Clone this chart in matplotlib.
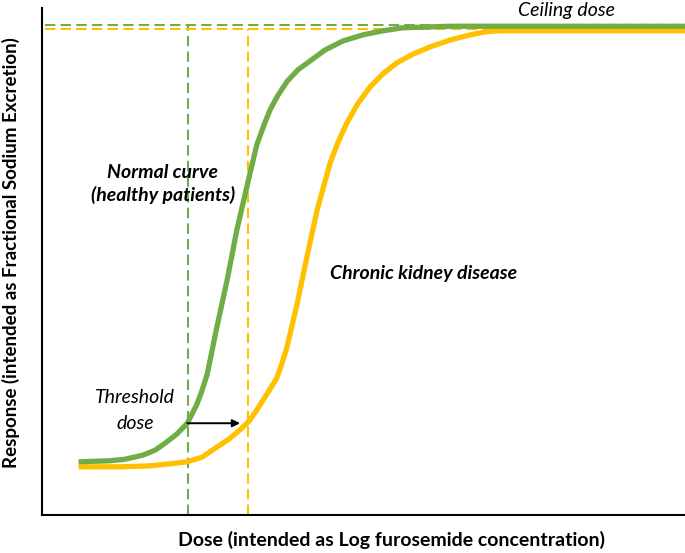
import matplotlib.pyplot as plt

plt.rcParams['font.family'] = ['Lato', 'DejaVu Sans']

# dose (log scale, arbitrary units 0-100) and response (0-100)
normal_dose = [6.1, 10.6, 12.9, 15.7, 17.6, 19.4, 21.0, 22.6, 24.0, 24.8, 25.7,
               27.1, 28.8, 30.3, 32.0, 33.4, 34.7, 35.5, 36.7, 38.1, 39.8, 44.0,
               46.8, 49.9, 53.0, 56.1, 63.5, 100]
normal_resp = [10.5, 10.7, 11.0, 11.8, 12.8, 14.4, 16.0, 18.1, 21.6, 24.2, 27.8,
               36.5, 46.4, 56.2, 65.5, 73.0, 77.5, 80.0, 82.8, 85.5, 87.8, 91.7,
               93.5, 94.7, 95.5, 96.1, 96.4, 96.4]

ckd_dose = [6.1, 12.1, 16.8, 19.9, 22.6, 24.9, 27.2, 29.1, 30.8, 32.2, 33.3,
            34.4, 35.5, 36.5, 37.3, 38.1, 39.7, 41.2, 42.8, 44.8, 46.0, 47.4,
            49.1, 51.0, 53.0, 55.2, 57.7, 60.3, 63.5, 66.6, 68.9, 70.8, 100]
ckd_resp = [9.5, 9.5, 9.7, 10.1, 10.5, 11.4, 13.4, 15.0, 16.8, 18.5, 20.5,
            22.7, 24.9, 27.0, 29.8, 33.1, 41.8, 50.9, 60.2, 69.4, 73.4, 77.3,
            81.1, 84.4, 87.0, 89.2, 90.9, 92.3, 93.7, 94.7, 95.3, 95.5, 95.5]

threshold = {'normal': 22.7, 'ckd': 32.1}
ceiling = {'normal': 96.7, 'ckd': 95.8}

green = '#70AD47'
gold = '#FFC000'

fig = plt.figure(figsize=(6.85, 5.53), dpi=100)
ax = fig.add_axes([42 / 685, 38 / 553, 643 / 685, 507 / 553])

# dashed guides
ax.plot([threshold['normal'], threshold['normal']], [0, ceiling['normal']],
        color=green, lw=1.5, dashes=(5, 2.5))
ax.plot([threshold['ckd'], threshold['ckd']], [0, ceiling['ckd']],
        color=gold, lw=1.5, dashes=(5, 2.5))
ax.plot([0.5, 100], [ceiling['normal'], ceiling['normal']], color=green, lw=1.5, dashes=(5, 2.5))
ax.plot([0.5, 100], [ceiling['ckd'], ceiling['ckd']], color=gold, lw=1.5, dashes=(5, 2.5))

# curves
ax.plot(ckd_dose, ckd_resp, color=gold, lw=3.8, solid_joinstyle='round')
ax.plot(normal_dose, normal_resp, color=green, lw=3.8, solid_joinstyle='round')

# shift arrow
ax.annotate('', xy=(30.8, 18.1), xytext=(22.6, 18.1),
            arrowprops=dict(arrowstyle='-|>', color='black', lw=1.4,
                            mutation_scale=11, shrinkA=0, shrinkB=0))

ax.text(81.6, 99.6, 'Ceiling dose', style='italic', fontsize=14, ha='center', va='center')
ax.text(18.8, 67.5, 'Normal curve', style='italic', weight='bold', fontsize=14,
        ha='center', va='center')
ax.text(18.8, 63.1, '(healthy patients)', style='italic', weight='bold', fontsize=14,
        ha='center', va='center')
ax.text(44.8, 47.7, 'Chronic kidney disease', style='italic', weight='bold', fontsize=14,
        ha='left', va='center')
ax.text(14.5, 23.1, 'Threshold', style='italic', fontsize=14, ha='center', va='center')
ax.text(14.5, 18.1, 'dose', style='italic', fontsize=14, ha='center', va='center')

ax.set_xlim(0, 100)
ax.set_ylim(0, 100)
ax.set_xticks([])
ax.set_yticks([])
for s in ['top', 'right']:
    ax.spines[s].set_visible(False)
for s in ['left', 'bottom']:
    ax.spines[s].set_linewidth(1.5)

fig.text(391 / 685, 1 - 540 / 553, 'Dose (intended as Log furosemide concentration)',
         weight='bold', fontsize=14, ha='center', va='center')
fig.text(11 / 685, 1 - 253 / 553, 'Response (intended as Fractional Sodium Excretion)',
         weight='bold', fontsize=13.5, ha='center', va='center', rotation=90)

fig.savefig('out.png', dpi=100)
